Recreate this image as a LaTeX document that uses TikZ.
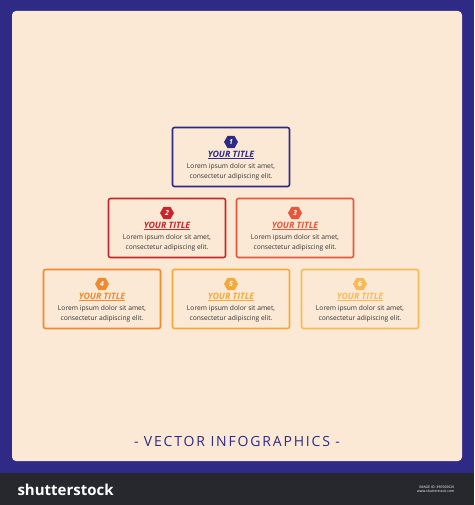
\documentclass[tikz,border=0pt]{standalone}
\usepackage{fontspec}
\setmainfont{Open Sans}
\usetikzlibrary{shapes.geometric}
\definecolor{navy}{HTML}{2E2A85}
\definecolor{cream}{HTML}{FCE9D5}
\definecolor{footer}{HTML}{26282D}
\definecolor{colA}{HTML}{2E2A85}
\definecolor{colB}{HTML}{C8262C}
\definecolor{colC}{HTML}{E9553B}
\definecolor{colD}{HTML}{EF8A2E}
\definecolor{colE}{HTML}{F4A93A}
\definecolor{colF}{HTML}{F6BA57}
\begin{document}
\begin{tikzpicture}[x=1pt,y=-1pt]
\tikzstyle{card}=[draw,line width=1.6pt,rounded corners=2pt,fill=cream,minimum width=117pt,minimum height=59pt,inner sep=0pt]
\tikzstyle{badge}=[regular polygon,regular polygon sides=6,minimum size=14pt,inner sep=0pt,text=white,font=\fontsize{7}{7}\selectfont\bfseries\itshape]
\tikzstyle{heading}=[font=\fontsize{8.8}{9}\selectfont\bfseries\itshape,inner sep=0pt]
\tikzstyle{blurb}=[align=center,text=black!80,font=\fontsize{6.7}{9.6}\selectfont,inner sep=0pt]
\useasboundingbox (0,0) rectangle (474,505);
% frame and footer
\fill[navy] (0,0) rectangle (474,473);
\fill[cream,rounded corners=4pt] (12,11) rectangle (462,461);
\fill[footer] (0,473) rectangle (474,505);
\node[text=white,font=\fontsize{15}{15}\selectfont\bfseries,anchor=west] (logo) at (14,490) {shutterstock};
\node[text=white!80,font=\fontsize{3.5}{4.5}\selectfont,align=right,anchor=east] (imgid) at (458,489) {IMAGE ID: 396560626\\www.shutterstock.com};
% cards
\foreach \n/\x/\y/\c in {1/231/157/colA,2/167/228/colB,3/295/228/colC,4/102/299/colD,5/231/299/colE,6/360/299/colF}{
  \node[card,draw=\c] (box\n) at (\x,\y) {};
  \node[badge,fill=\c] (num\n) at (\x,\y-15) {\n};
  \node[heading,text=\c] (title\n) at (\x,\y-2) {\underline{YOUR TITLE}};
  \node[blurb] (text\n) at (\x,\y+15) {Lorem ipsum dolor sit amet,\\consectetur adipiscing elit.};
}
\node[text=navy,font=\fontsize{14}{14}\selectfont\addfontfeatures{LetterSpace=13}] (caption) at (237,441) {- VECTOR INFOGRAPHICS -};
\end{tikzpicture}
\end{document}
